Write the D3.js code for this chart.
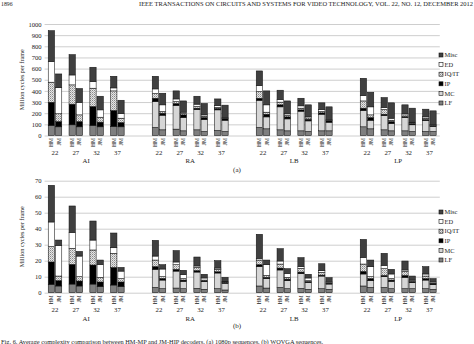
<!DOCTYPE html>
<html>
<head>
<meta charset="utf-8">
<script src="https://cdn.jsdelivr.net/npm/d3@7/dist/d3.min.js"></script>
<style>
  body { margin: 0; background: #fff; }
  svg { display: block; }
  text { font-family: "Liberation Serif", "Times New Roman", serif; fill: #222; }
</style>
</head>
<body>
<svg id="chart" width="474" height="344"></svg>
<script>
// Categories
const configs = ["AI", "RA", "LB", "LP"];
const qps = ["22", "27", "32", "37"];
const decoders = ["HM", "JM"];
const components = ["LF", "MC", "IP", "IQ/IT", "ED", "Misc"];

// (a) 1080p, million cycles per frame; order: config > QP > [HM, JM]
const hdLF   = [90,78, 96,78, 90,78, 81,78,  72,51, 57,42, 51,36, 45,36,  72,60, 51,42, 42,36, 42,42,  78,60, 51,42, 42,36, 36,36];
const hdMC   = [0,0, 0,0, 0,0, 0,0,  232,131, 212,119, 182,107, 185,101,  244,107, 206,107, 176,95, 149,77,  146,77, 128,65, 119,60, 98,45];
const hdIP   = [208,47, 185,47, 170,42, 143,38,  30,18, 18,24, 12,18, 12,12,  18,24, 18,18, 12,15, 12,12,  21,24, 12,18, 9,11, 9,8];
const hdIQIT = [180,70, 173,60, 164,44, 176,39,  42,15, 17,12, 15,12, 9,5,  60,18, 24,12, 15,12, 12,5,  65,24, 42,12, 15,6, 12,4];
const hdED   = [185,235, 89,113, 60,66, 27,42,  42,60, 24,12, 21,12, 18,5,  54,66, 24,15, 21,12, 18,5,  48,72, 18,18, 12,6, 12,3];
const hdMisc = [277,122, 182,123, 128,122, 104,119,  113,104, 72,101, 71,102, 59,113,  131,125, 83,116, 68,105, 60,116,  155,131, 89,138, 78,126, 69,125];

// (b) WQVGA, million cycles per frame
const wqLF   = [5.2,4.2, 5.4,4.2, 5.4,3.8, 4.8,3.8,  3.3,2.5, 2.9,2.5, 2.7,2.1, 2.5,1.7,  4.2,2.9, 3.3,2.5, 2.7,2.1, 2.5,2.1,  4.2,3.3, 3.3,2.5, 2.5,2.5, 2.5,2.1];
const wqMC   = [0,0, 0,0, 0,0, 0,0,  11.3,5.4, 10.6,4.6, 10.2,4.8, 9.8,4.2,  12.1,5.9, 10.9,5.0, 9.2,4.2, 7.9,3.3,  7.5,4.2, 6.7,4.6, 7.1,3.8, 5.4,2.9];
const wqIP   = [14,3.3, 12.3,3.1, 11.9,2.9, 11,2.9,  1.7,1.0, 1.1,0.8, 0.9,0.6, 0.8,0.5,  1.2,0.8, 1.2,1.0, 1.0,0.7, 0.6,0.6,  1.6,1.3, 0.8,0.8, 1.2,0.6, 0.9,0.6];
const wqIQIT = [9.6,2.9, 10,2.7, 9.4,2.9, 8.8,2.1,  4.1,1.1, 2.9,0.9, 2.0,0.4, 1.5,0.3,  2.9,1.2, 2.5,1.1, 2.3,0.5, 1.7,0.4,  4.6,1.2, 4.2,0.9, 2.5,0.4, 1.6,0.4];
const wqED   = [15.4,19.2, 10,12.9, 6.2,8.1, 3.5,4.7,  2.5,4.8, 1.7,2.5, 0.9,1.3, 0.8,0.4,  1.1,6.7, 1.9,2.5, 1.1,1.7, 1.1,0.7,  4.2,6.3, 2.1,2.9, 0.9,0.6, 1.3,0.7];
const wqMisc = [22.9,3.3, 16.5,2.9, 11.9,2.7, 9.2,2.3,  9.8,2.7, 7.1,2.7, 5.6,2.3, 4.6,2.5,  15,2.9, 7.7,2.9, 5.6,2.3, 4.3,2.3,  11.2,4.1, 7.5,2.9, 5.6,2.5, 4.6,2.1];

// Axis ticks
const hdTicks = [0, 100, 200, 300, 400, 500, 600, 700, 800, 900, 1000];
const wqTicks = [0, 10, 20, 30, 40, 50, 60, 70];

const headerLeft = "1896";
const headerText = "IEEE TRANSACTIONS ON CIRCUITS AND SYSTEMS FOR VIDEO TECHNOLOGY, VOL. 22, NO. 12, DECEMBER 2012";
const captionText = "Fig. 6.   Average complexity comparison between HM-MP and JM-HIP decoders. (a) 1080p sequences. (b) WQVGA sequences.";
const yTitle = "Million cycles per frame";

const svg = d3.select("#chart");

const fills = {
  "LF": "#7f7f7f",
  "MC": "#d6d6d6",
  "IP": "#000000",
  "IQ/IT": "url(#dots)",
  "ED": "#ffffff",
  "Misc": "#404040"
};

const defs = svg.append("defs");
const pat = defs.append("pattern").attr("id", "dots")
  .attr("width", 2).attr("height", 2).attr("patternUnits", "userSpaceOnUse");
pat.append("rect").attr("width", 2).attr("height", 2).attr("fill", "#e6e6e6");
pat.append("rect").attr("width", 1).attr("height", 1).attr("fill", "#8a8a8a");
pat.append("rect").attr("x", 1).attr("y", 1).attr("width", 1).attr("height", 1).attr("fill", "#b5b5b5");

// 19 slots: 4 configs x 4 QPs with an empty slot between configs
const slots = [];
configs.forEach((c, i) => {
  qps.forEach(q => slots.push(c + "-" + q));
  if (i < configs.length - 1) slots.push("gap" + i);
});

const x0 = 44.6, x1 = 439.8;
const xSlot = d3.scaleBand().domain(slots).range([x0, x1]).paddingInner(0.35).paddingOuter(0.175);
const xDec = d3.scaleBand().domain(decoders).range([0, xSlot.bandwidth()]).paddingInner(0.13);

function buildRows(series) {
  const rows = [];
  let k = 0;
  configs.forEach(c => qps.forEach(q => decoders.forEach(d => {
    const r = { slot: c + "-" + q, dec: d };
    components.forEach(comp => { r[comp] = series[comp][k]; });
    rows.push(r);
    k++;
  })));
  return rows;
}

function drawPanel(opt) {
  const g = svg.append("g");
  const y = d3.scaleLinear().domain([0, opt.max]).range([opt.yZero, opt.yTop]);

  // gridlines + tick labels
  const axis = d3.axisLeft(y).tickValues(opt.ticks).tickFormat(d3.format("d"))
    .tickSize(-(x1 - x0)).tickPadding(3);
  const ax = g.append("g").attr("transform", `translate(${x0},0)`).call(axis);
  ax.select(".domain").remove();
  ax.selectAll(".tick line").attr("stroke", "#c8c8c8").attr("stroke-width", 0.9);
  ax.selectAll(".tick text").attr("font-size", 6.6).attr("fill", "#333")
    .attr("font-family", "Liberation Serif, serif");

  // stacked bars
  const rows = buildRows(opt.series);
  const stacked = d3.stack().keys(components)(rows);
  const layers = g.append("g").selectAll("g").data(stacked).join("g")
    .attr("fill", d => fills[d.key]);
  layers.selectAll("rect").data(d => d).join("rect")
    .attr("x", d => xSlot(d.data.slot) + xDec(d.data.dec))
    .attr("width", xDec.bandwidth())
    .attr("y", d => y(d[1]))
    .attr("height", d => Math.max(0, y(d[0]) - y(d[1])))
    .attr("stroke", "#111")
    .attr("stroke-width", d => (d[1] - d[0]) > 0 ? 0.55 : 0);

  // decoder labels (rotated)
  const lab = g.append("g");
  configs.forEach(c => qps.forEach(q => decoders.forEach(d => {
    const cx = xSlot(c + "-" + q) + xDec(d) + xDec.bandwidth() / 2;
    lab.append("text")
      .attr("transform", `translate(${cx},${opt.yZero + 2.5}) rotate(-90)`)
      .attr("text-anchor", "end").attr("dy", "0.35em")
      .attr("font-size", 5.6).text(d);
  })));
  // QP labels
  configs.forEach(c => qps.forEach(q => {
    const cx = xSlot(c + "-" + q) + xSlot.bandwidth() / 2;
    lab.append("text").attr("x", cx).attr("y", opt.yZero + 16.8)
      .attr("text-anchor", "middle").attr("dy", "0.35em")
      .attr("font-size", 6.8).text(q);
  }));
  // config labels
  configs.forEach(c => {
    const a = xSlot(c + "-" + qps[0]), b = xSlot(c + "-" + qps[qps.length - 1]) + xSlot.bandwidth();
    lab.append("text").attr("x", (a + b) / 2).attr("y", opt.yZero + 25.5)
      .attr("text-anchor", "middle").attr("dy", "0.35em")
      .attr("font-size", 6.8).text(c);
  });
  // panel tag
  lab.append("text").attr("x", 237).attr("y", opt.tagY)
    .attr("text-anchor", "middle").attr("dy", "0.35em")
    .attr("font-size", 7).text(opt.tag);

  // y title
  g.append("text")
    .attr("transform", `translate(22,${(opt.yZero + opt.yTop) / 2}) rotate(-90)`)
    .attr("text-anchor", "middle").attr("dy", "0.35em")
    .attr("font-size", 6.2).text(yTitle);

  // legend (top to bottom: Misc ... LF)
  const leg = g.append("g");
  components.slice().reverse().forEach((comp, i) => {
    const ly = opt.legendY + i * 9.6;
    leg.append("rect").attr("x", 439).attr("y", ly - 2).attr("width", 4).attr("height", 4)
      .attr("fill", fills[comp]).attr("stroke", "#111").attr("stroke-width", 0.6);
    leg.append("text").attr("x", 444.5).attr("y", ly).attr("dy", "0.35em")
      .attr("font-size", 6.4).text(comp);
  });
}

drawPanel({
  max: 1000, ticks: hdTicks, yZero: 135.5, yTop: 24,
  series: { "LF": hdLF, "MC": hdMC, "IP": hdIP, "IQ/IT": hdIQIT, "ED": hdED, "Misc": hdMisc },
  legendY: 55, tag: "(a)", tagY: 169.5
});

drawPanel({
  max: 70, ticks: wqTicks, yZero: 292.7, yTop: 180.7,
  series: { "LF": wqLF, "MC": wqMC, "IP": wqIP, "IQ/IT": wqIQIT, "ED": wqED, "Misc": wqMisc },
  legendY: 212, tag: "(b)", tagY: 325.5
});

// running head and caption
svg.append("text").attr("x", 1).attr("y", 6).attr("font-size", 5.8).text(headerLeft);
svg.append("text").attr("x", 139).attr("y", 6).attr("font-size", 5.8)
  .attr("textLength", 334).attr("lengthAdjust", "spacingAndGlyphs").text(headerText);
svg.append("text").attr("x", 1).attr("y", 343.5).attr("font-size", 6.6)
  .attr("textLength", 322).attr("lengthAdjust", "spacingAndGlyphs").text(captionText);
</script>
</body>
</html>
